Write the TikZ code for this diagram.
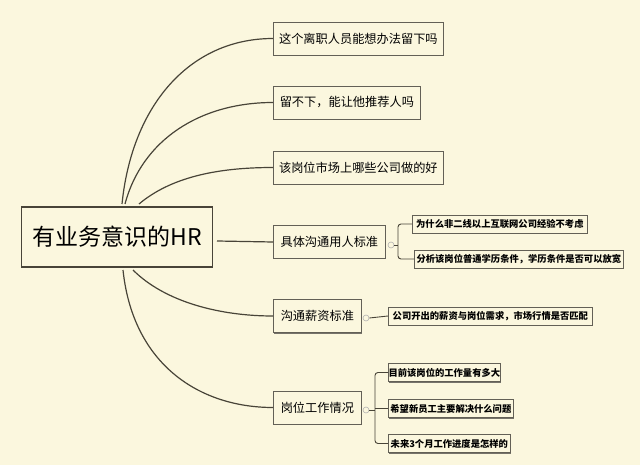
\documentclass[tikz,border=0pt]{standalone}
\usepackage{fontspec}
\setmainfont{Noto Sans CJK SC}
\usetikzlibrary{shadows}
\definecolor{bg}{RGB}{251,247,222}
\definecolor{ln}{RGB}{72,68,56}
\begin{document}
\begin{tikzpicture}[x=1pt,y=-1pt,
  box/.style={draw=ln!85, line width=0.7pt, fill=bg, inner sep=0pt,
    drop shadow={shadow xshift=1pt, shadow yshift=-1pt, fill=ln!75, opacity=1}},
  topic/.style={box, anchor=west, minimum height=33pt, font=\fontsize{12.2}{14}\selectfont},
  subtopic/.style={box, anchor=west, minimum height=18pt, font=\fontsize{9.3}{11}\selectfont\bfseries},
  root/.style={draw=ln, line width=1.2pt, fill=bg, minimum width=191pt, minimum height=60pt, inner sep=0pt, font=\fontsize{23}{26}\selectfont},
  curve/.style={draw=ln, line width=1.2pt},
  bracket/.style={draw=ln, line width=0.9pt, rounded corners=3pt},
  knob/.style={circle, draw=black!30, line width=0.6pt, fill=bg, minimum size=6pt, inner sep=0pt}]
\fill[bg] (0,0) rectangle (640,465);
\useasboundingbox (0,0) rectangle (640,465);

\node[root] (c) at (117,237) {有业务意识的HR};

\node[topic, minimum width=170pt] (n1) at (273,38.5) {这个离职人员能想办法留下吗};
\node[topic, minimum width=147pt] (n2) at (273,102.5) {留不下，能让他推荐人吗};
\node[topic, minimum width=170pt] (n3) at (273,167.5) {该岗位市场上哪些公司做的好};
\node[topic, minimum width=112pt] (n4) at (273,242) {具体沟通用人标准};
\node[topic, minimum width=88pt] (n5) at (273,316) {沟通薪资标准};
\node[topic, minimum width=88pt] (n6) at (273,407.5) {岗位工作情况};

\node[subtopic, minimum width=175pt] (s41) at (412,224) {为什么非二线以上互联网公司经验不考虑};
\node[subtopic, minimum width=209pt] (s42) at (414,259) {分析该岗位普通学历条件，学历条件是否可以放宽};
\node[subtopic, minimum width=204pt] (s51) at (388,316) {公司开出的薪资与岗位需求，市场行情是否匹配};
\node[subtopic, minimum width=112pt] (s61) at (388,372.5) {目前该岗位的工作量有多大};
\node[subtopic, minimum width=125pt] (s62) at (388,408.5) {希望新员工主要解决什么问题};
\node[subtopic, minimum width=122pt] (s63) at (388,443.5) {未来3个月工作进度是怎样的};

\node[knob] (k4) at (391,245) {};
\node[knob] (k5) at (366,318) {};
\node[knob] (k6) at (366,410) {};

\coordinate (o1) at (122,204);
\coordinate (o2) at (125,204);
\coordinate (o3) at (139,204);
\coordinate (o4) at (217,241);
\coordinate (o5) at (133,270);
\coordinate (o6) at (123,270);

\draw[curve] (o1) .. controls (132,105) and (190,38.5) .. (n1.west);
\draw[curve] (o2) .. controls (142,140) and (200,102.5) .. (n2.west);
\draw[curve] (o3) .. controls (170,178) and (215,167.5) .. (n3.west);
\draw[curve] (o4) -- (n4.west);
\draw[curve] (o5) .. controls (165,302) and (220,316) .. (n5.west);
\draw[curve] (o6) .. controls (133,365) and (200,407.5) .. (n6.west);

\coordinate (b4t) at (398,224);
\coordinate (b4b) at (398,259);
\draw[bracket] (s41.west) -- (b4t) -- (b4b) -- (s42.west);
\draw[bracket] (k4.east) -- (k4.east -| b4t);

\draw[bracket] (k5.east) -- (s51.west);

\coordinate (b6t) at (375,372.5);
\coordinate (b6b) at (375,443.5);
\draw[bracket] (s61.west) -- (b6t) -- (b6b) -- (s63.west);
\draw[bracket] (s62.west) -- (s62.west -| b6t);
\draw[bracket] (k6.east) -- (k6.east -| b6t);
\end{tikzpicture}
\end{document}
